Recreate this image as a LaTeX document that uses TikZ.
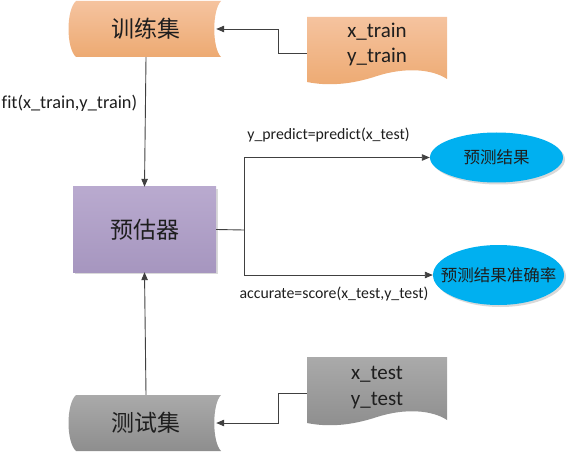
\documentclass[tikz,border=0pt]{standalone}
\usepackage{fontspec}
\setmainfont{Carlito}[Ligatures={NoCommon}]
\newfontfamily\cjk{Noto Sans CJK SC}
\usetikzlibrary{arrows.meta,shapes.geometric}
\definecolor{linec}{HTML}{404040}
\definecolor{txt}{HTML}{1E1E1E}
\definecolor{orT}{HTML}{F5C39F}
\definecolor{orB}{HTML}{EDAA72}
\definecolor{puT}{HTML}{B9AACF}
\definecolor{puB}{HTML}{A696BF}
\definecolor{grT}{HTML}{AAAAAA}
\definecolor{grB}{HTML}{8E8E8E}
\definecolor{blu}{HTML}{00B0F0}
\definecolor{shd}{HTML}{D9D9D9}
\tikzset{
  conn/.style={draw=linec, line width=0.9pt, -{Triangle[length=8pt,width=6.5pt]}},
  plain/.style={draw=linec, line width=0.9pt},
  box/.style={inner sep=0pt, text=txt},
  bigcjk/.style={box, font=\cjk\fontsize{23}{27}\selectfont},
  smallcjk/.style={box, font=\cjk\fontsize{16.5}{19}\selectfont},
  doctext/.style={box, font=\fontsize{21}{25.5}\selectfont, align=center},
  lbl/.style={inner sep=0pt, text=txt, font=\fontsize{15.8}{18}\selectfont},
  oval/.style={ellipse, fill=blu, inner sep=0pt},
}
\begin{document}
\begin{tikzpicture}[x=1pt,y=-1pt]
\useasboundingbox (0,0) rectangle (569,454);
% faint shadows
\fill[shd] (75,189) rectangle (218,274);
\fill[shd] (498.5,159.5) ellipse (66.5pt and 25pt);
\fill[shd] (500.5,277) ellipse (65.5pt and 30pt);
% stored-data shapes
\shade[top color=orT, bottom color=orB]
  (76,1) -- (221,1) .. controls (212,10) and (212,48) .. (221,57)
  -- (76,57) .. controls (66,48) and (66,10) .. (76,1) -- cycle;
\shade[top color=grT, bottom color=grB]
  (76,395) -- (221,395) .. controls (212,404) and (212,442) .. (221,451)
  -- (76,451) .. controls (66,442) and (66,404) .. (76,395) -- cycle;
% documents
\shade[top color=orT, bottom color=orB]
  (307,17) -- (447,17) -- (447,79) .. controls (432,69) and (405,67) .. (377,76)
  .. controls (350,85) and (327,86) .. (307,82) -- cycle;
\shade[top color=grT, bottom color=grB]
  (307,357) -- (447,357) -- (447,420) .. controls (432,410) and (405,408) .. (377,417)
  .. controls (350,426) and (327,427) .. (307,423) -- cycle;
% estimator
\shade[top color=puT, bottom color=puB] (73,187) rectangle (216,272);

\node[bigcjk, minimum width=140pt, minimum height=56pt] (train) at (146,29) {训练集};
\node[bigcjk, minimum width=140pt, minimum height=56pt] (test) at (146,423) {测试集};
\node[bigcjk, minimum width=143pt, minimum height=85pt] (est) at (144.5,229.5) {预估器};
\node[doctext, minimum width=140pt, minimum height=60pt] (xtrain) at (377,44.5) {x\_train\\y\_train};
\node[doctext, minimum width=140pt, minimum height=60pt] (xtest) at (377,387.5) {x\_test\\y\_test};
\node[oval, minimum width=133pt, minimum height=50pt] (pred) at (496.5,157.5) {};
\node[oval, minimum width=131pt, minimum height=60pt] (acc) at (498.5,275) {};
\node[smallcjk] (predt) at (pred.center) {预测结果};
\node[smallcjk] (acct) at (acc.center) {预测结果准确率};

\node[lbl, anchor=west, font=\fontsize{18.3}{21}\selectfont] (fitl) at (1.5,103) {fit(x\_train,y\_train)};
\node[lbl] (predl) at (328.5,135) {y\_predict=predict(x\_test)};
\node[lbl] (accl) at (334,293.5) {accurate=score(x\_test,y\_test)};

\coordinate (split) at (244,230);
\draw[conn] (xtrain.west |- 0,53) -- ++(-28,0) |- (train.east);
\draw[conn] (xtest.west |- 0,393) -- ++(-28,0) |- (test.east);
\draw[conn] (train.south) -- (est.north);
\draw[conn] (test.north) -- (est.south);
\draw[plain] (est.east) -- (split);
\draw[conn] (split) |- (pred.west);
\draw[conn] (split) |- (acc.west);
\end{tikzpicture}
\end{document}
